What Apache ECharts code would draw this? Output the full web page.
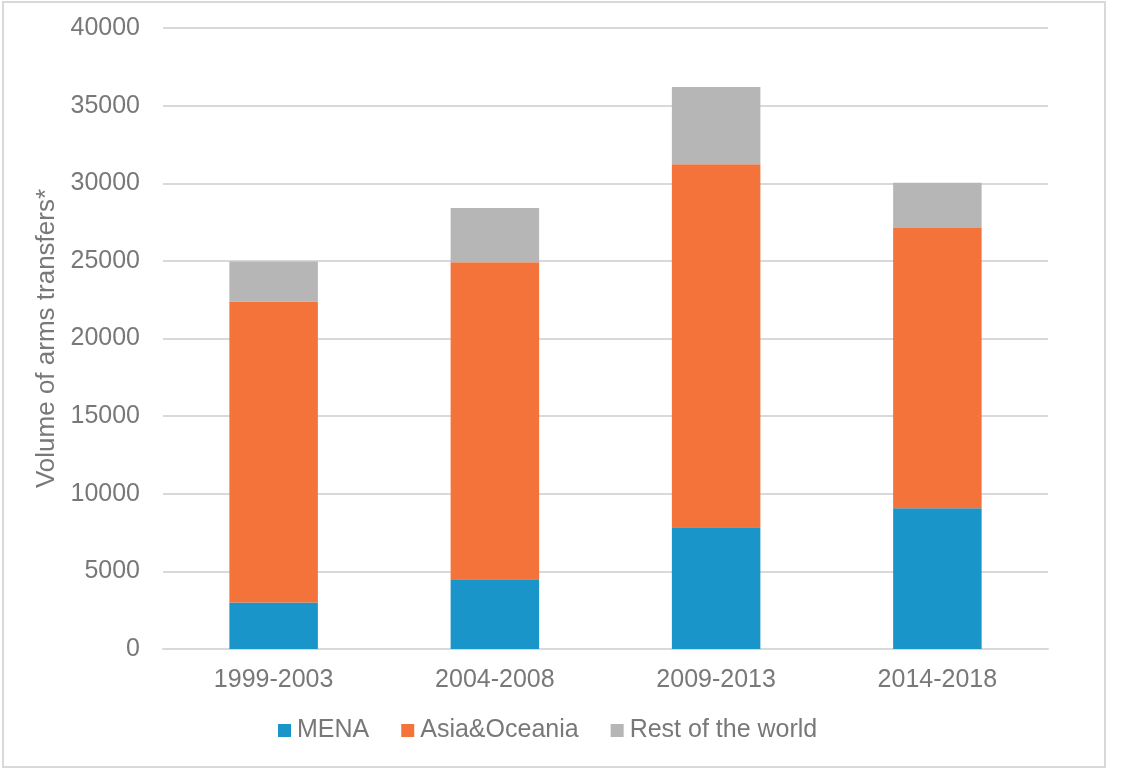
<!DOCTYPE html>
<html lang="en">
<head>
<meta charset="utf-8">
<script type="text/javascript" src="https://cdn.jsdelivr.net/npm/echarts@6/dist/echarts.min.js"></script>
<style>
  body { margin: 0; background: #fff; }
  #main { width: 1121px; height: 783px; }
</style>
</head>
<body>
<div id="main"></div>
<script type="text/javascript">
// periods and values
var periods = ['1999-2003', '2004-2008', '2009-2013', '2014-2018'];
var mena = [3000, 4490, 7840, 9060];
var asiaOceania = [19390, 20425, 23380, 18060];
var restOfWorld = [2570, 3490, 4980, 2920];

var textGray = '#787878';
var fontFam = '"Liberation Sans", Arial, sans-serif';

var myChart = echarts.init(document.getElementById('main'));

var option = {
    animation: false,
    textStyle: { fontFamily: fontFam },
    graphic: [{
        type: 'rect',
        shape: { x: 3, y: 2, width: 1102, height: 765 },
        style: { fill: 'none', stroke: '#d9d9d9', lineWidth: 2 },
        silent: true
    }],
    grid: {
        left: 163,
        right: 1121 - 1048,
        top: 28,
        bottom: 783 - 649
    },
    legend: {
        bottom: 35,
        left: 273,
        itemWidth: 13,
        itemHeight: 13,
        itemGap: 32,
        icon: 'rect',
        textStyle: { color: textGray, fontSize: 25, fontFamily: fontFam, padding: [0, 0, 0, 1] },
        data: ['MENA', 'Asia&Oceania', 'Rest of the world']
    },
    xAxis: {
        type: 'category',
        data: periods,
        axisTick: { show: false },
        axisLine: { lineStyle: { color: '#d9d9d9', width: 2 } },
        axisLabel: { color: textGray, fontSize: 25, margin: 19, fontFamily: fontFam }
    },
    yAxis: {
        type: 'value',
        min: 0,
        max: 40000,
        interval: 5000,
        name: 'Volume of arms transfers*',
        nameLocation: 'middle',
        nameGap: 95,
        nameTextStyle: { color: textGray, fontSize: 26, fontFamily: fontFam },
        axisLine: { show: false },
        axisTick: { show: false },
        splitLine: { lineStyle: { color: '#d9d9d9', width: 2 } },
        axisLabel: {
            color: textGray, fontSize: 25, margin: 23, fontFamily: fontFam,
            formatter: function (v) { return String(v); }
        }
    },
    series: [
        {
            name: 'MENA',
            type: 'bar',
            stack: 'total',
            barCategoryGap: '60%',
            itemStyle: { color: '#1995ca' },
            data: mena
        },
        {
            name: 'Asia&Oceania',
            type: 'bar',
            stack: 'total',
            itemStyle: { color: '#f3733b' },
            data: asiaOceania
        },
        {
            name: 'Rest of the world',
            type: 'bar',
            stack: 'total',
            itemStyle: { color: '#b5b6b5' },
            data: restOfWorld
        }
    ]
};

myChart.setOption(option);
</script>
</body>
</html>
